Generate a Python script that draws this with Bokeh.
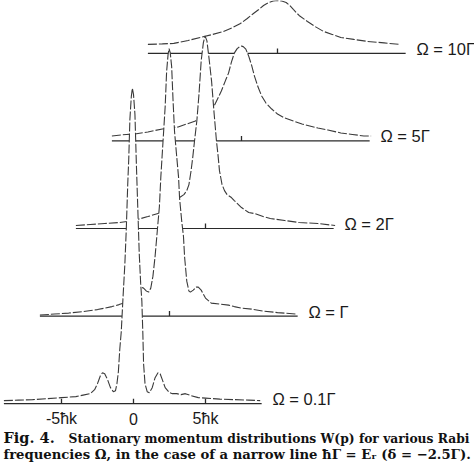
from bokeh.plotting import figure
from bokeh.models import Range1d, Label, ColumnDataSource
from bokeh.core.properties import value
from bokeh.embed import file_html
from bokeh.resources import INLINE

# ---- data: stationary momentum distributions W(p) (arb. units), p in units of hbar*k
series_labels = ["Ω = 0.1Γ", "Ω = Γ", "Ω = 2Γ", "Ω = 5Γ", "Ω = 10Γ"]

p_01 = [-9.0, -8.0, -7.0, -6.0, -5.0, -4.0, -3.5, -3.0, -2.7, -2.5,
        -2.3, -2.15, -2.0, -1.8, -1.6, -1.4, -1.25, -1.15, -1.05, -0.95,
        -0.85, -0.74, -0.6, -0.5, -0.4, -0.33, -0.25, -0.15, -0.08, 0.0,
        0.1, 0.2, 0.3, 0.4, 0.5, 0.58, 0.65, 0.7, 0.8, 0.95,
        1.1, 1.3, 1.5, 1.7, 1.85, 2.0, 2.2, 2.5, 2.7, 3.0,
        3.3, 3.6, 4.0, 4.5, 5.0, 6.0, 7.0, 8.0, 8.8]
w_01 = [3, 3.5, 4, 5, 6, 7, 8.5, 10, 14, 20,
        28, 31, 30, 24, 16, 12, 13, 20, 32, 55,
        72, 103, 140, 175, 220, 245, 285, 308, 316, 310,
        290, 240, 195, 150, 120, 103, 70, 40, 20, 12,
        11, 16, 26, 31, 30, 24, 16, 11, 10, 10,
        9, 10, 8, 6, 5.5, 4.5, 4, 3.5, 3]

p_1 = [-9, -8, -7, -6, -5, -4.5, -4, -3.5, -3, -2.6,
       -2.3, -2.0, -1.8, -1.6, -1.45, -1.3, -1.15, -1.0, -0.85, -0.7,
       -0.6, -0.45, -0.3, -0.2, -0.1, -0.03, 0.05, 0.15, 0.25, 0.35,
       0.5, 0.63, 0.7, 0.85, 0.97, 1.05, 1.2, 1.35, 1.45, 1.65,
       1.85, 2.0, 2.2, 2.5, 2.9, 3.5, 4.1, 4.5, 5.0, 5.7,
       6.5, 7.5, 8.8]
w_1 = [1, 2, 3, 4.5, 6.5, 8, 9.5, 11.5, 14, 20,
       26, 29, 28, 25, 24, 28, 40, 60, 85, 110,
       140, 175, 210, 245, 262, 268, 264, 250, 215, 185,
       160, 139, 118, 95, 80, 59, 35, 25, 24, 26,
       29, 29, 26, 18, 13, 12, 11, 9.5, 8, 7,
       5, 3.5, 2]

p_2 = [-9, -8, -7, -6, -5, -4.5, -4, -3.3, -3, -2.5,
       -2.0, -1.8, -1.5, -1.3, -1.15, -1.0, -0.88, -0.76, -0.6, -0.45,
       -0.3, -0.15, -0.03, 0.1, 0.25, 0.42, 0.6, 0.76, 0.88, 0.97,
       1.15, 1.32, 1.5, 1.8, 2.0, 2.5, 3.0, 3.4, 4.0, 4.5,
       5.5, 6.5, 7.8, 9.0]
w_2 = [3, 4, 5, 6, 8, 10, 12, 15, 16, 21,
       28, 31, 34, 38, 44, 58, 72, 88, 108, 135,
       168, 186, 193, 188, 170, 148, 115, 88, 72, 58,
       44, 38, 34, 31, 28, 21, 16, 15, 12, 10,
       8, 6, 5, 3]

p_5 = [-9, -8, -7.4, -6.5, -5.5, -4.4, -3.2, -2.5, -1.9, -1.4,
       -1.1, -0.9, -0.7, -0.5, -0.3, -0.12, 0, 0.12, 0.3, 0.5,
       0.7, 0.9, 1.15, 1.4, 1.7, 2.1, 2.5, 3.0, 3.6, 4.2,
       5.3, 6.0, 6.9, 7.7, 8.5, 9.0]
w_5 = [5, 6.5, 7, 9, 12, 14, 20, 27, 35, 50,
       61, 68, 79, 88, 92.5, 94.5, 95, 94.5, 92, 85,
       76, 65, 54, 45, 38, 32, 27, 23, 20, 17,
       13, 11, 8, 6.5, 5, 5]

p_10 = [-9, -8, -7.2, -6.2, -5.35, -4.5, -3.75, -3.1, -2.57, -2.1,
        -1.67, -1.3, -0.97, -0.6, -0.3, 0, 0.3, 0.6, 0.85, 1.1,
        1.5, 2.08, 2.6, 3.2, 3.8, 4.4, 5.3, 6.25, 7.4, 8.5]
w_10 = [9, 9.5, 10, 13, 16, 19, 22, 26, 30, 35,
        40, 44, 48, 51, 52.5, 53, 52.5, 51, 48, 44,
        38, 32, 27, 22, 19, 16, 14, 12, 10.5, 9]

tick_values = [-5, 0, 5]
tick_labels = ["-5ħk", "0", "5ħk"]

caption_head = "Fig. 4."
caption_line1 = "Stationary momentum distributions W(p) for various Rabi"
caption_line2 = "frequencies Ω, in the case of a narrow line ħΓ = Eᵣ (δ̄ = −2.5Γ)."

# ---- layout (waterfall offsets)
X_STEP = 2.5      # horizontal shift per curve (hbar k)
Y_STEP = 87.75    # vertical shift per curve (arb. units)
P_LO, P_HI = -9.0, 8.9
TICK_LEN = 5
LABEL_DX = 9.65

curves = [(p_01, w_01), (p_1, w_1), (p_2, w_2), (p_5, w_5), (p_10, w_10)]

p = figure(width=474, height=465, output_backend="svg", toolbar_location=None,
           x_range=Range1d(-9.236, 23.681), y_range=Range1d(-62, 404),
           x_axis_type=None, y_axis_type=None, min_border=0)
p.outline_line_color = None
p.grid.visible = False
p.background_fill_color = "white"

for i in reversed(range(len(curves))):
    pp, ww = curves[i]
    y0 = i * Y_STEP
    xs = [v + i * X_STEP for v in pp]
    ys = [y0 + v for v in ww]
    src = ColumnDataSource(dict(x=xs, y=ys, b=[y0] * len(xs)))
    # hidden-line removal: white area under each curve hides the curves behind
    p.varea(x="x", y1="b", y2="y", source=src, fill_color="white", fill_alpha=1.0)
    p.segment(x0=[P_LO + i * X_STEP], y0=[y0], x1=[P_HI + i * X_STEP], y1=[y0],
              line_color="#2a2a2a", line_width=1.2)
    p.line(x="x", y="y", source=src, line_color="#3a3a3a", line_width=1.1,
           line_dash="9 2")
    tv = tick_values if i == 0 else [0]
    p.segment(x0=[t + i * X_STEP for t in tv], y0=[y0] * len(tv),
              x1=[t + i * X_STEP for t in tv], y1=[y0 + TICK_LEN] * len(tv),
              line_color="#2a2a2a", line_width=1.3)

# series labels
p.text(x=[LABEL_DX + i * X_STEP for i in range(5)],
       y=[i * Y_STEP + 4.5 for i in range(5)],
       text=series_labels, text_font=value("Liberation Sans"),
       text_font_size="16.5px", text_align="left", text_baseline="middle",
       text_color="#1a1a1a")

# tick labels under bottom curve
p.text(x=tick_values, y=[-15] * 3, text=tick_labels,
       text_font=value("Liberation Sans"), text_font_size="16px",
       text_align="center", text_baseline="middle", text_color="#1a1a1a")

# caption
p.add_layout(Label(x=3, y=20, x_units="screen", y_units="screen", text=caption_head,
                   text_font="DejaVu Serif", text_font_style="bold",
                   text_font_size="14.5px", text_color="#111111"))
p.add_layout(Label(x=68, y=20, x_units="screen", y_units="screen", text=caption_line1,
                   text_font="DejaVu Serif", text_font_style="bold",
                   text_font_size="12.3px", text_color="#111111"))
p.add_layout(Label(x=3, y=4, x_units="screen", y_units="screen", text=caption_line2,
                   text_font="DejaVu Serif", text_font_style="bold",
                   text_font_size="13.2px", text_color="#111111"))

open("out.html", "w").write(file_html(p, INLINE))
